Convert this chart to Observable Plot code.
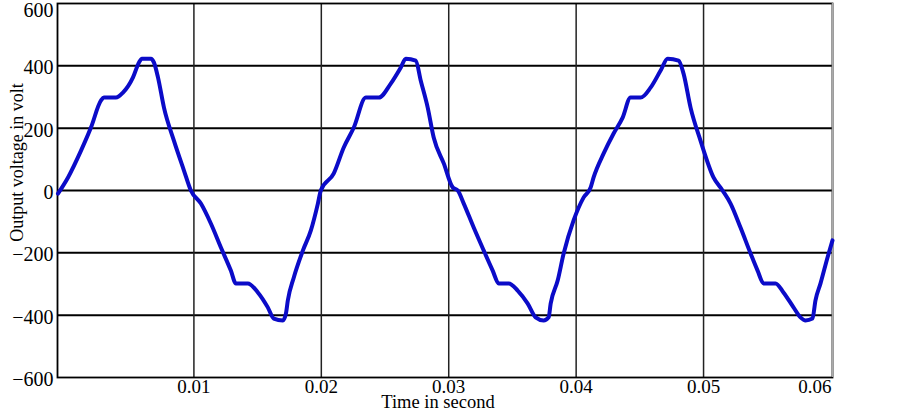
<!DOCTYPE html>
<html>
<head>
<meta charset="utf-8">
<script src="https://cdn.jsdelivr.net/npm/d3@7"></script>
<script src="https://cdn.jsdelivr.net/npm/@observablehq/plot@0.6"></script>
<style>
  html, body { margin: 0; padding: 0; background: #fff; }
  #chart svg { display: block; }
</style>
</head>
<body>
<div id="chart"></div>
<script>
// Time in seconds
const time = [
  -0.00067, 0.00012, 0.00114, 0.00192, 0.00271, 0.00294, 0.00388, 0.00443, 0.00522, 0.00569,
  0.00592, 0.00663, 0.00686, 0.00718, 0.00765, 0.00843, 0.00922, 0.00976, 0.01055, 0.01133,
  0.01212, 0.01290, 0.01329, 0.01424, 0.01502, 0.01580, 0.01627, 0.01698, 0.01722, 0.01737,
  0.01784, 0.01855, 0.01918, 0.01973, 0.01996,
  0.02098, 0.02176, 0.02255, 0.02349, 0.02451, 0.02545, 0.02624, 0.02663, 0.02741, 0.02780,
  0.02835, 0.02882, 0.02961, 0.03031, 0.03071, 0.03118, 0.03196, 0.03275, 0.03345, 0.03392,
  0.03471, 0.03541, 0.03620, 0.03682, 0.03745, 0.03784, 0.03800, 0.03855, 0.03902, 0.03980,
  0.04059, 0.04114,
  0.04137, 0.04216, 0.04294, 0.04365, 0.04427, 0.04506, 0.04584, 0.04663, 0.04718, 0.04804,
  0.04843, 0.04898, 0.04976, 0.05078, 0.05149, 0.05212, 0.05290, 0.05369, 0.05424, 0.05471,
  0.05565, 0.05627, 0.05706, 0.05761, 0.05800, 0.05855, 0.05878, 0.05918, 0.05973, 0.06012
];
// Output voltage in volt
const voltage = [
  -10, 42, 128, 202, 289, 298, 298, 314, 363, 411,
  423, 423, 411, 363, 266, 160, 64, 0, -42, -106,
  -183, -257, -298, -298, -327, -375, -411, -417, -395, -353,
  -279, -193, -128, -42, 0,
  55, 138, 202, 298, 298, 343, 395, 423, 417, 353,
  266, 170, 87, 10, 0, -42, -119, -193, -257, -298,
  -298, -321, -363, -407, -417, -407, -363, -289, -202, -96,
  -22, 10,
  42, 119, 183, 234, 298, 298, 330, 385, 423, 417,
  375, 266, 160, 42, 0, -42, -119, -202, -257, -298,
  -298, -327, -375, -407, -417, -411, -353, -298, -215, -160
];

const xTicks = [0.01, 0.02, 0.03, 0.04, 0.05, 0.06];
const xGrid = [0.01, 0.02, 0.03, 0.04, 0.05];
const yTicks = [-600, -400, -200, 0, 200, 400, 600];
const yGrid = [-400, -200, 0, 200, 400];
const xDomain = [-0.000706, 0.06012];
const yDomain = [-600, 600];

const data = time.map((t, i) => ({t, v: voltage[i]}));
const font = "'Liberation Serif', 'Times New Roman', serif";
const fmtY = d => d < 0 ? "\u2212" + Math.abs(d) : String(d);
const fmtX = d => d.toFixed(2);

const chart = Plot.plot({
  width: 903,
  height: 411,
  marginLeft: 57,
  marginRight: 71,
  marginTop: 3,
  marginBottom: 34,
  style: {fontFamily: font, fontSize: "20px", color: "black", background: "white"},
  x: {domain: xDomain},
  y: {domain: yDomain},
  marks: [
    Plot.ruleY(yGrid, {stroke: "black", strokeWidth: 2}),
    Plot.ruleX(xGrid, {stroke: "#222", strokeWidth: 1.5}),
    Plot.frame({stroke: "black", strokeWidth: 1.8}),
    Plot.ruleX([xDomain[1]], {stroke: "#aaa", strokeWidth: 1.5}),
    Plot.line(data, {x: "t", y: "v", stroke: "#0b0bc8", strokeWidth: 4, curve: "monotone-x", strokeLinejoin: "round"}),
    Plot.axisY(yTicks.slice(0, 6), {tickSize: 0, tickPadding: 4, tickFormat: fmtY, fontSize: 20, fontFamily: font, label: null, dy: 2}),
    Plot.axisY([yTicks[6]], {tickSize: 0, tickPadding: 4, tickFormat: fmtY, fontSize: 20, fontFamily: font, label: null, dy: 7}),
    Plot.axisX(xTicks.slice(0, 5), {tickSize: 0, tickPadding: 2, tickFormat: fmtX, fontSize: 19, fontFamily: font, label: null}),
    Plot.axisX([xTicks[5]], {tickSize: 0, tickPadding: 2, tickFormat: fmtX, fontSize: 19, fontFamily: font, label: null, dx: -16}),
    Plot.text(["Time in second"], {frameAnchor: "bottom", lineAnchor: "middle", textAnchor: "middle", dy: 25, dx: -7, fontSize: 18.5, fontFamily: font, fill: "black"}),
    Plot.text(["Output voltage in volt"], {frameAnchor: "left", textAnchor: "middle", lineAnchor: "middle", rotate: -90, dx: -40, dy: -28, fontSize: 18, fontFamily: font, fill: "black"})
  ]
});
document.getElementById("chart").appendChild(chart);
</script>
</body>
</html>
